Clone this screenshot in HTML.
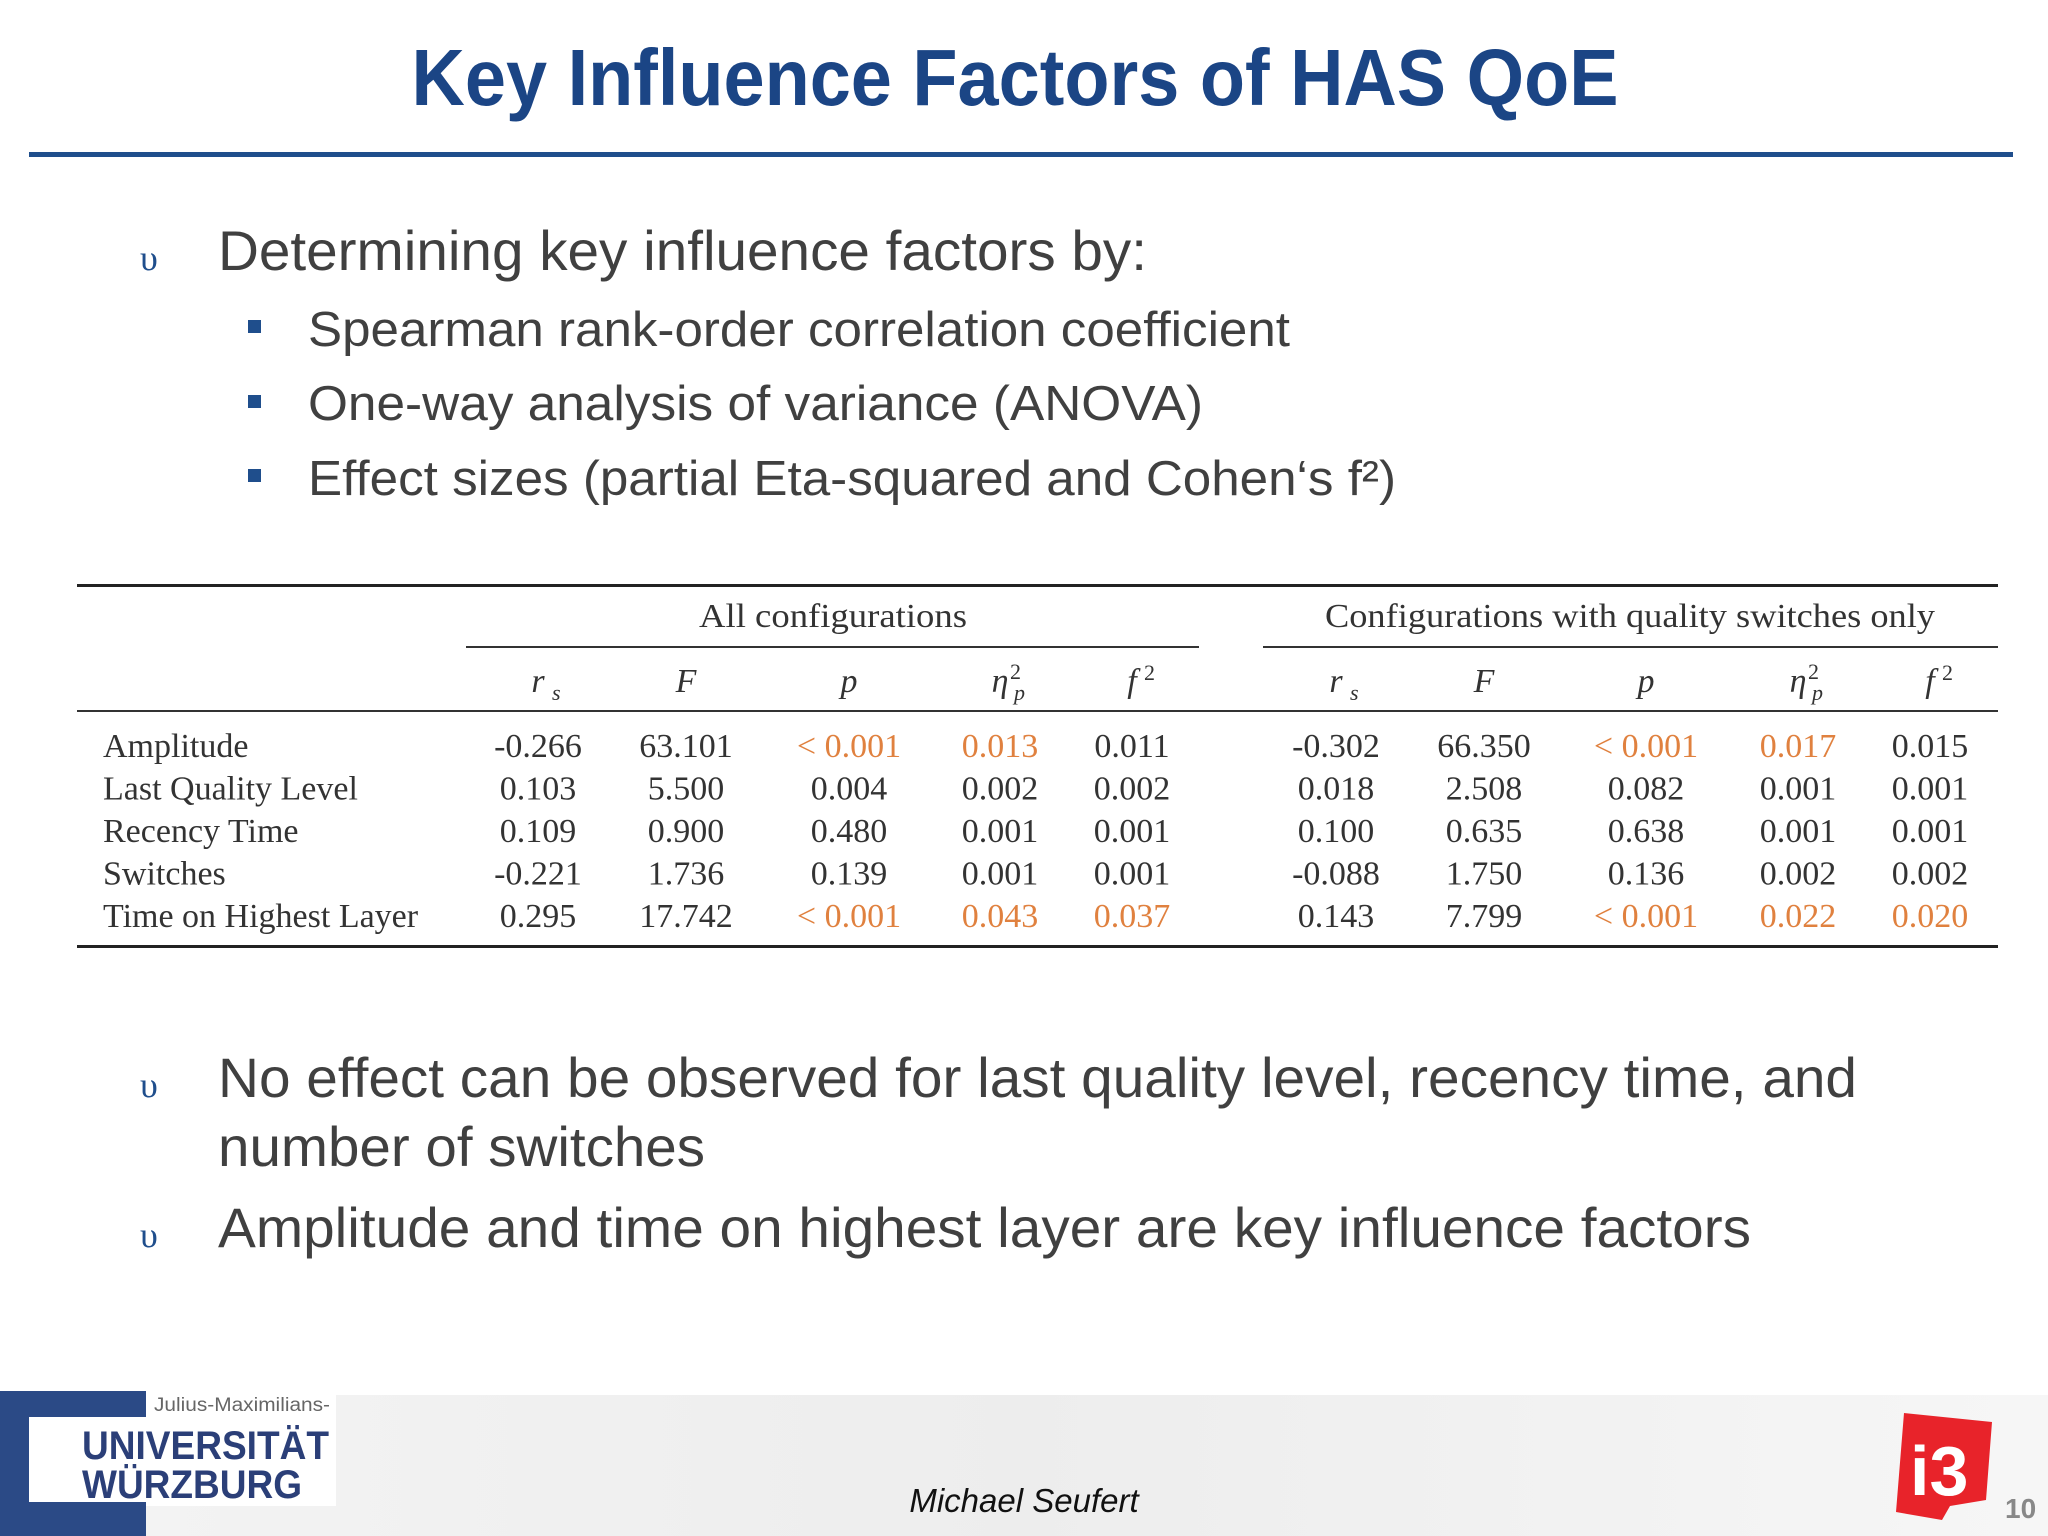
<!DOCTYPE html>
<html><head><meta charset="utf-8"><style>html,body{margin:0;padding:0;background:#fff}svg{display:block}</style></head>
<body>
<svg width="2048" height="1536" viewBox="0 0 2048 1536" xmlns="http://www.w3.org/2000/svg">
<defs>
<linearGradient id="fg" x1="0" x2="1" y1="0" y2="0"><stop offset="0" stop-color="#f4f4f4"/><stop offset="0.5" stop-color="#ededed"/><stop offset="1" stop-color="#f6f6f6"/></linearGradient>
</defs>
<rect width="2048" height="1536" fill="#fff"/>
<rect x="0" y="1395" width="2048" height="141" fill="url(#fg)"/>

<text x="1015" y="105" text-anchor="middle" font-family="Liberation Sans, sans-serif" font-weight="bold" font-size="80" fill="#1b4585" textLength="1207" lengthAdjust="spacingAndGlyphs">Key Influence Factors of HAS QoE</text>
<rect x="29" y="152" width="1984" height="5" fill="#1f4e8c"/>

<g font-family="Liberation Sans, sans-serif" fill="#404040">
<text x="140" y="270" font-family="Liberation Serif, serif" font-size="36" fill="#1f4e8c">υ</text>
<text x="218" y="270" font-size="56" textLength="929" lengthAdjust="spacingAndGlyphs">Determining key influence factors by:</text>
<rect x="248" y="320" width="13" height="13" fill="#1f4e8c"/>
<text x="308" y="346" font-size="49" textLength="982" lengthAdjust="spacingAndGlyphs">Spearman rank-order correlation coefficient</text>
<rect x="248" y="395" width="13" height="13" fill="#1f4e8c"/>
<text x="308" y="420" font-size="49" textLength="895" lengthAdjust="spacingAndGlyphs">One-way analysis of variance (ANOVA)</text>
<rect x="248" y="469" width="13" height="13" fill="#1f4e8c"/>
<text x="308" y="495" font-size="49" textLength="1088" lengthAdjust="spacingAndGlyphs">Effect sizes (partial Eta-squared and Cohen‘s f²)</text>
</g>

<g font-family="Liberation Serif, serif" fill="#333">
<rect x="77" y="584" width="1921" height="3" fill="#222"/>
<rect x="466" y="646" width="733" height="2" fill="#333"/>
<rect x="1263" y="646" width="735" height="2" fill="#333"/>
<rect x="77" y="710" width="1921" height="2" fill="#333"/>
<rect x="77" y="945" width="1921" height="3" fill="#222"/>
<text x="833" y="627" text-anchor="middle" font-size="34" textLength="268" lengthAdjust="spacingAndGlyphs">All configurations</text>
<text x="1630" y="627" text-anchor="middle" font-size="34" textLength="610" lengthAdjust="spacingAndGlyphs">Configurations with quality switches only</text>
<g id="rows"></g>
</g>

<g font-family="Liberation Sans, sans-serif" fill="#404040">
<text x="140" y="1097" font-family="Liberation Serif, serif" font-size="36" fill="#1f4e8c">υ</text>
<text x="218" y="1097" font-size="56" textLength="1639" lengthAdjust="spacingAndGlyphs">No effect can be observed for last quality level, recency time, and</text>
<text x="218" y="1166" font-size="56" textLength="487" lengthAdjust="spacingAndGlyphs">number of switches</text>
<text x="140" y="1247" font-family="Liberation Serif, serif" font-size="36" fill="#1f4e8c">υ</text>
<text x="218" y="1247" font-size="56" textLength="1533" lengthAdjust="spacingAndGlyphs">Amplitude and time on highest layer are key influence factors</text>
</g>

<g>
<rect x="0" y="1391" width="146" height="145" fill="#2b4a86"/>
<rect x="29" y="1417" width="117" height="85" fill="#fff"/>
<rect x="146" y="1391" width="190" height="115" fill="#fff"/>
<text x="154" y="1411" font-family="Liberation Sans, sans-serif" font-size="19" fill="#666" textLength="176" lengthAdjust="spacingAndGlyphs">Julius-Maximilians-</text>
<text x="82" y="1459" font-family="Liberation Sans, sans-serif" font-weight="bold" font-size="40" fill="#2b3f78" textLength="247" lengthAdjust="spacingAndGlyphs">UNIVERSITÄT</text>
<text x="82" y="1498" font-family="Liberation Sans, sans-serif" font-weight="bold" font-size="40" fill="#2b3f78" textLength="220" lengthAdjust="spacingAndGlyphs">WÜRZBURG</text>
</g>
<text x="1024" y="1512" text-anchor="middle" font-family="Liberation Sans, sans-serif" font-style="italic" font-size="33" fill="#111">Michael Seufert</text>
<g>
<path d="M1904 1413 L1992 1422 L1986 1500 L1950 1506 L1942 1520 L1896 1512 Z" fill="#e8232a"/>
<text x="1910" y="1495" font-family="Liberation Sans, sans-serif" font-weight="bold" font-size="70" fill="#fff">i3</text>
</g>
<text x="2005" y="1518" font-family="Liberation Sans, sans-serif" font-weight="bold" font-size="28" fill="#888">10</text>

<script>
const rowLabels = ["Amplitude","Last Quality Level","Recency Time","Switches","Time on Highest Layer"];
const allValues = [
 ["-0.266","63.101","< 0.001","0.013","0.011"],
 ["0.103","5.500","0.004","0.002","0.002"],
 ["0.109","0.900","0.480","0.001","0.001"],
 ["-0.221","1.736","0.139","0.001","0.001"],
 ["0.295","17.742","< 0.001","0.043","0.037"]];
const switchValues = [
 ["-0.302","66.350","< 0.001","0.017","0.015"],
 ["0.018","2.508","0.082","0.001","0.001"],
 ["0.100","0.635","0.638","0.001","0.001"],
 ["-0.088","1.750","0.136","0.002","0.002"],
 ["0.143","7.799","< 0.001","0.022","0.020"]];
const allHighlight = [[0,0,1,1,0],[0,0,0,0,0],[0,0,0,0,0],[0,0,0,0,0],[0,0,1,1,1]];
const switchHighlight = [[0,0,1,1,0],[0,0,0,0,0],[0,0,0,0,0],[0,0,0,0,0],[0,0,1,1,1]];
const NS="http://www.w3.org/2000/svg";
const g=document.getElementById('rows');
const colX=[538,686,849,1000,1132,1336,1484,1646,1798,1930];
const rowY=i=>757+i*42.5;
function t(x,y,s,attrs){const e=document.createElementNS(NS,'text');e.setAttribute('x',x);e.setAttribute('y',y);for(const k in attrs)e.setAttribute(k,attrs[k]);e.textContent=s;g.appendChild(e);return e;}
// headers
const heads=[["r","s"],["F",""],["p",""],["η","p"],["f","²"]];
for(let k=0;k<10;k++){const h=heads[k%5];
 const e=t(colX[k],692,h[0],{'text-anchor':'middle','font-size':'34','font-style':'italic'});
 
 
 if(h[1]==='s'||h[1]==='p'){t(colX[k]+14,700,h[1],{'font-size':'22','font-style':'italic'});}
 if(k%5===3){t(colX[k]+10,679,'2',{'font-size':'22'});}
 if(k%5===4){t(colX[k]+12,680,'2',{'font-size':'22'});}
}
rowLabels.forEach((lab,i)=>{
 const e=t(103,rowY(i),lab,{'font-size':'34'});
 
 
 [allValues,switchValues].forEach((vals,gi)=>{
  const hl=gi?switchHighlight:allHighlight;
  vals[i].forEach((v,j)=>{
   const c=t(colX[gi*5+j],rowY(i),v,{'text-anchor':'middle','font-size':'34','fill':hl[i][j]?'#e0813f':'#333'});
   
   
  });
 });
});
</script>
</svg>
</body></html>
